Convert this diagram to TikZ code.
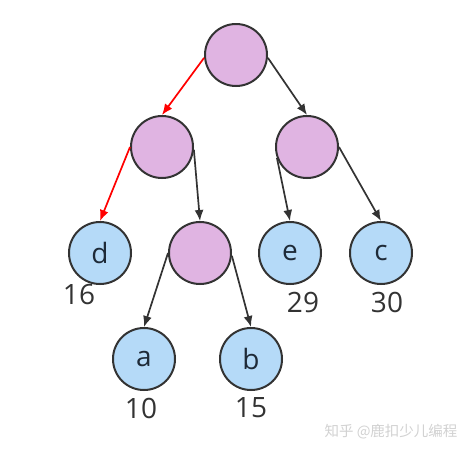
\documentclass[tikz,border=0pt]{standalone}
\usepackage{fontspec}
\setmainfont{Open Sans}
\newfontfamily\cjk{Noto Sans CJK SC}
\usetikzlibrary{arrows.meta}
\definecolor{inner}{HTML}{E0B4E2}
\definecolor{leaf}{HTML}{B5DAF8}
\definecolor{edge}{HTML}{333333}
\definecolor{txt}{HTML}{1E2A38}
\tikzset{
  base/.style={circle, draw=edge, line width=2pt, minimum size=62pt, inner sep=0pt, font=\fontsize{28}{28}\selectfont, text=txt},
  innode/.style={base, fill=inner},
  leafnode/.style={base, fill=leaf},
  weight/.style={font=\fontsize{28}{28}\selectfont, text=edge, inner sep=0pt},
  arr/.style={draw=edge, line width=1.7pt, -{Latex[length=11pt,width=9pt]}},
  redarr/.style={arr, draw=red, -{Latex[length=11pt,width=9pt,color=red]}},
}
\begin{document}
\begin{tikzpicture}[x=1pt,y=-1pt]
\useasboundingbox (0,0) rectangle (466,451);
\fill[white] (0,0) rectangle (466,451);
\node[innode] (root) at (236,55) {};
\node[innode] (l) at (162,147) {};
\node[innode] (r) at (307,147) {};
\node[leafnode] (d) at (100,253) {d};
\node[innode] (m) at (200,253) {};
\node[leafnode] (e) at (290,253) {e};
\node[leafnode] (c) at (381,253) {c};
\node[leafnode] (a) at (144,359) {a};
\node[leafnode] (b) at (251,359) {b};
\node[weight] (wd) at (79,294) {16};
\node[weight] (we) at (303,302) {29};
\node[weight] (wc) at (387,302) {30};
\node[weight] (wa) at (141,408) {10};
\node[weight] (wb) at (251,408) {15};
\node[text=gray!35, font=\cjk\fontsize{14.5}{14.5}\selectfont, inner sep=0pt] (wm) at (391,432) {知乎 @鹿扣少儿编程};
\draw[redarr] (root.185) -- (l.north);
\draw[arr] (root.-5) -- (r.north);
\draw[redarr] (l.180) -- (d.north);
\draw[arr] (l.-5) -- (m.north);
\draw[arr] (r.200) -- (e.north);
\draw[arr] (r.0) -- (c.north);
\draw[arr] (m.180) -- (a.north);
\draw[arr] (m.-5) -- (b.north);
\end{tikzpicture}
\end{document}
